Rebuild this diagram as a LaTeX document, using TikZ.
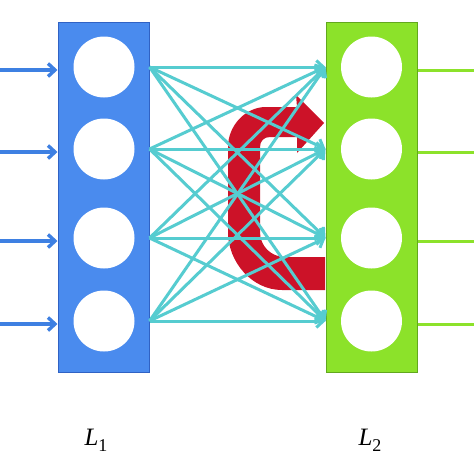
\documentclass[tikz,border=0pt]{standalone}
\usepackage{fontspec}
\setmainfont{Liberation Serif}
\usetikzlibrary{arrows.meta}
\definecolor{lblue}{RGB}{74,139,238}
\definecolor{dblue}{RGB}{48,98,196}
\definecolor{inblue}{RGB}{62,128,226}
\definecolor{lgreen}{RGB}{140,226,42}
\definecolor{dgreen}{RGB}{98,168,30}
\definecolor{cyanline}{RGB}{86,204,208}
\definecolor{redc}{RGB}{204,18,40}
\begin{document}
\begin{tikzpicture}[x=1pt,y=-1pt,
  layerbox/.style={draw, line width=1pt, minimum width=91pt, minimum height=350pt, inner sep=0pt},
  neuron/.style={circle, fill=white, minimum size=61pt, inner sep=0pt},
  link/.style={cyanline, line width=3pt, -{Straight Barb[length=7pt,width=13pt]}},
  inarrow/.style={inblue, line width=3.4pt, -{Straight Barb[length=7pt,width=13pt]}},
  outline/.style={lgreen, line width=3.8pt},
  lbl/.style={inner sep=0pt}
]
\useasboundingbox (0,0) rectangle (474,474);
\fill[white] (0,0) rectangle (474,474);

% red curved arrow
\fill[redc] (325,290) -- (282,290) .. controls (252,290) and (228,262) .. (228,232)
  -- (228,147) .. controls (228,126) and (245,107) .. (266,107) -- (297,107)
  -- (296,95) -- (324,123) -- (297,153) -- (297,137) -- (270,137)
  .. controls (264,137) and (260,141) .. (260,147) -- (260,232)
  .. controls (260,246) and (271,257) .. (285,257) -- (325,257) -- cycle;

% layer boxes
\node[layerbox, fill=lblue, draw=dblue] (A) at (103.5,197) {};
\node[layerbox, fill=lgreen, draw=dgreen] (B) at (371.5,197) {};

% neurons
\foreach \i/\y in {1/67,2/149,3/238,4/321}{
  \node[neuron] (a\i) at (104,\y) {};
  \node[neuron] (b\i) at (371.5,\y) {};
  \coordinate (in\i) at (0,\y+3);
  \coordinate (out\i) at (474,\y+3.5);
}

% inputs and outputs
\foreach \i in {1,...,4}{
  \draw[inarrow] (in\i) -- (A.west |- in\i);
  \draw[outline] (B.east |- out\i) -- (out\i);
}

% full connections
\foreach \i in {1,...,4}{
  \foreach \j in {1,...,4}{
    \draw[link] (A.east |- a\i) -- (B.west |- b\j);
  }
}

% labels
\node[lbl] (l1) at (96,440) {\fontsize{25}{28}\selectfont\textit{L}\raisebox{-6pt}{\fontsize{18}{20}\selectfont 1}};
\node[lbl] (l2) at (370,440) {\fontsize{25}{28}\selectfont\textit{L}\raisebox{-6pt}{\fontsize{18}{20}\selectfont 2}};
\end{tikzpicture}
\end{document}
